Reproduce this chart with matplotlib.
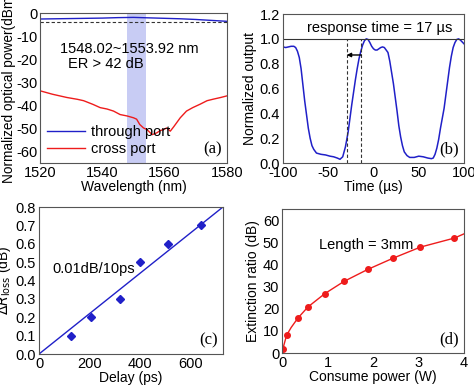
import numpy as np
import matplotlib
matplotlib.use('Agg')
import matplotlib.pyplot as plt

# (a) spectra
wl_through = [1520, 1530, 1540, 1545, 1550, 1555, 1560, 1565, 1570, 1575, 1580]
p_through = [-2.6, -2.4, -2.2, -2.0, -1.9, -2.1, -2.3, -2.5, -2.8, -3.2, -3.6]
wl_cross = [1520, 1524, 1528.6, 1532, 1534, 1537, 1539.3, 1541.5, 1543.6, 1545.7, 1547.9,
            1550, 1551, 1552, 1553.2, 1554.3, 1556, 1557.5, 1558.5, 1559.6, 1560.7,
            1561.8, 1562.9, 1565, 1567, 1569, 1571.4, 1573.6, 1575.7, 1578, 1580]
p_cross = [-33.7, -35.2, -36.6, -37.4, -38, -39.6, -41, -41.6, -42.5, -44, -44.6,
           -45.4, -46, -48.3, -49.8, -50.5, -52.7, -51.9, -51, -50.5, -49.8,
           -51.2, -49.3, -45.4, -42.5, -41, -39.5, -38, -37.3, -36.6, -35.9]
band = [1548.02, 1553.92]
er_line = -4

# (b) time response
t_us = [-100, -97, -94, -91, -88, -86, -84, -82, -80, -78, -76, -74, -72, -70, -68, -66,
        -63, -58, -53, -48, -44, -40, -37, -34, -31, -28, -26, -24, -22, -20, -18, -16,
        -14, -12, -10, -8, -6, -4, -2, 0, 2, 4, 6, 8, 10, 12, 14, 16, 18, 20, 22, 24, 26,
        28, 30, 32, 34, 37, 40, 45, 50, 55, 60, 64, 66, 68, 70, 72, 74, 76, 78, 80, 82,
        84, 86, 88, 90, 92, 94, 96, 98, 100]
v_out = [0.935, 0.93, 0.935, 0.94, 0.94, 0.93, 0.9, 0.85, 0.76, 0.63, 0.5, 0.39, 0.28,
         0.2, 0.14, 0.11, 0.08, 0.07, 0.065, 0.055, 0.05, 0.04, 0.03, 0.05, 0.13, 0.25,
         0.36, 0.47, 0.57, 0.67, 0.76, 0.84, 0.9, 0.95, 0.985, 1.0, 0.995, 0.97, 0.94,
         0.92, 0.91, 0.91, 0.92, 0.93, 0.935, 0.93, 0.91, 0.89, 0.82, 0.73, 0.64, 0.53,
         0.42, 0.3, 0.21, 0.14, 0.09, 0.06, 0.045, 0.045, 0.055, 0.05, 0.04, 0.035, 0.04,
         0.07, 0.12, 0.19, 0.28, 0.36, 0.44, 0.55, 0.66, 0.77, 0.86, 0.93, 0.97, 0.995,
         1.0, 0.99, 0.975, 0.96]
t_marks = [-29.6, -13.5]

# (c) loss vs delay
delay = [127, 205, 320, 400, 513, 644]
dr_loss = [0.1, 0.2, 0.3, 0.5, 0.6, 0.7]
fit_x = [0, 730]
fit_y = [0, 0.8]

# (d) extinction ratio vs power
power = [0.02, 0.1, 0.35, 0.57, 0.94, 1.36, 1.88, 2.44, 3.04, 3.79]
er = [2, 8, 15.8, 20.8, 26.8, 32.3, 37.7, 42.8, 47.8, 51.9]
power_line = [0.0, 0.02, 0.1, 0.2, 0.35, 0.57, 0.94, 1.36, 1.88, 2.44, 3.04, 3.79, 4.0]
er_line_d = [0, 2, 8, 11.5, 15.8, 20.8, 26.8, 32.3, 37.7, 42.8, 47.8, 51.9, 53.8]

plt.rcParams['font.family'] = ['Liberation Sans', 'DejaVu Sans']
plt.rcParams['font.size'] = 10
plt.rcParams['axes.unicode_minus'] = False

fig = plt.figure(figsize=(4.74, 3.85), dpi=100)

blue = '#2020c8'
red = '#ee1c1c'


def style(ax):
    ax.tick_params(length=0, pad=2, labelsize=10.5)
    for s in ax.spines.values():
        s.set_color('#555555')
        s.set_linewidth(0.8)


def tag(ax, s):
    ax.text(0.97, 0.04, s, transform=ax.transAxes, ha='right', va='bottom',
            fontsize=12, family='Liberation Serif')


# (a)
ax = fig.add_axes([0.0844, 0.5766, 0.3945, 0.3896])
ax.axvspan(band[0], band[1], color='#c8ccf4', lw=0)
ax.plot(wl_through, p_through, color=blue, lw=1.0, label='through port')
ax.plot(wl_cross, p_cross, color=red, lw=1.0, label='cross port')
ax.axhline(er_line, color='#333333', lw=0.8, ls='--', dashes=(3, 2))
ax.set_xlim(1520, 1580)
ax.set_ylim(-65, 0)
ax.set_xticks([1520, 1540, 1560, 1580])
ax.set_yticks([0, -10, -20, -30, -40, -50, -60])
ax.set_xlabel('Wavelength (nm)', labelpad=0)
ax.set_ylabel('Normalized optical power(dBm)', labelpad=0, fontsize=9.8)
ax.text(1548.5, -15.5, '1548.02~1553.92 nm', ha='center', va='center', fontsize=10.5)
ax.text(1529, -22, 'ER > 42 dB', ha='left', va='center', fontsize=10.5)
ax.legend(loc='lower left', frameon=False, fontsize=10.5, handlelength=2.6,
          borderaxespad=0.1, handletextpad=0.4, labelspacing=0.2)
tag(ax, '(a)')
style(ax)

# (b)
ax = fig.add_axes([0.597, 0.5766, 0.3819, 0.387])
ax.plot(t_us, v_out, color=blue, lw=1.1)
ax.axhline(1.0, color='#333333', lw=0.8)
for t in t_marks:
    ax.plot([t, t], [0, 1.0], color='#333333', lw=0.8, ls='--', dashes=(3, 2))
ax.annotate('', xy=(t_marks[0], 0.87), xytext=(t_marks[1], 0.87),
            arrowprops=dict(arrowstyle='-|>', color='black', lw=1.0,
                            mutation_scale=6, shrinkA=0, shrinkB=0))
ax.text(7, 1.09, 'response time = 17 \u00b5s', ha='center', va='center', fontsize=10.5)
ax.set_xlim(-100, 100)
ax.set_ylim(0, 1.2)
ax.set_xticks([-100, -50, 0, 50, 100])
ax.set_yticks([0.0, 0.2, 0.4, 0.6, 0.8, 1.0, 1.2])
ax.set_yticklabels(['0.0', '0.2', '0.4', '0.6', '0.8', '1.0', '1.2'])
ax.set_xlabel('Time (\u00b5s)', labelpad=0)
ax.set_ylabel('Normalized output', labelpad=2)
tag(ax, '(b)')
style(ax)

# (c)
ax = fig.add_axes([0.0823, 0.0805, 0.388, 0.3818])
ax.plot(fit_x, fit_y, color=blue, lw=1.0)
ax.plot(delay, dr_loss, 'D', color=blue, ms=4)
ax.text(218, 0.46, '0.01dB/10ps', ha='center', va='center', fontsize=10.5)
ax.set_xlim(0, 730)
ax.set_ylim(0, 0.8)
ax.set_xticks([0, 200, 400, 600])
ax.set_yticks([0.0, 0.1, 0.2, 0.3, 0.4, 0.5, 0.6, 0.7, 0.8])
ax.set_xlabel('Delay (ps)', labelpad=0)
ax.set_ylabel(r'$\Delta R_{\rm loss}$ (dB)', labelpad=2)
tag(ax, '(c)')
style(ax)

# (d)
ax = fig.add_axes([0.595, 0.0831, 0.384, 0.374])
ax.plot(power_line, er_line_d, color=red, lw=1.0)
ax.plot(power, er, 'o', color=red, ms=4)
ax.text(1.86, 48.7, 'Length = 3mm', ha='center', va='center', fontsize=10.5)
ax.set_xlim(0, 4)
ax.set_ylim(0, 65)
ax.set_xticks([0, 1, 2, 3, 4])
ax.set_yticks([0, 10, 20, 30, 40, 50, 60])
ax.set_xlabel('Consume power (W)', labelpad=0)
ax.set_ylabel('Extinction ratio (dB)', labelpad=2)
tag(ax, '(d)')
style(ax)

fig.savefig('out.png', dpi=100)
